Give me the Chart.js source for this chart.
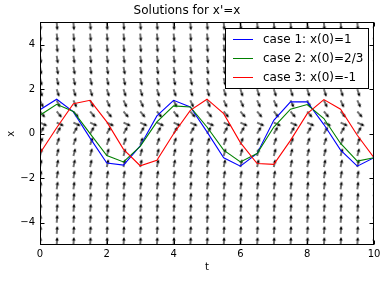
<!DOCTYPE html>
<html>
<head>
<meta charset="utf-8">
<script src="https://cdn.jsdelivr.net/npm/chart.js@4/dist/chart.umd.min.js"></script>
<style>
    html, body { margin: 0; padding: 0; background: #fff; }
    #wrap { width: 386px; height: 281px; }
</style>
</head>
<body>
<div id="wrap"><canvas id="myChart" width="386" height="281"></canvas></div>
<script>
// solution curves, sampled every 0.5 in t
var tValues = [0, 0.5, 1, 1.5, 2, 2.5, 3, 3.5, 4, 4.5, 5, 5.5, 6, 6.5, 7, 7.5, 8, 8.5, 9, 9.5, 10];
var case1 = [1.08, 1.55, 0.98, -0.2, -1.32, -1.41, -0.55, 0.8, 1.5, 1.2, 0.08, -1.08, -1.46, -0.89, 0.6, 1.43, 1.43, 0.41, -0.74, -1.46, -1.08];
var case2 = [0.83, 1.32, 1.0, 0.0, -0.98, -1.27, -0.57, 0.53, 1.25, 1.2, 0.3, -0.74, -1.27, -0.89, 0.3, 1.1, 1.31, 0.68, -0.44, -1.23, -1.08];
var case3 = [-0.88, 0.27, 1.35, 1.5, 0.53, -0.7, -1.44, -1.19, 0.0, 1.05, 1.55, 0.9, -0.4, -1.34, -1.38, -0.3, 0.9, 1.53, 1.1, -0.07, -1.08];

var seriesLabels = ['case 1: x(0)=1', 'case 2: x(0)=2/3', 'case 3: x(0)=-1'];
var seriesColors = ['#0000ff', '#008000', '#ff0000'];

var xTicks = [0, 2, 4, 6, 8, 10];
var yTicks = [-4, -2, 0, 2, 4];

// direction field: grid columns, rows and arrow angle per row (degrees, up = positive)
var fieldT = [0, 0.5, 1, 1.5, 2, 2.5, 3, 3.5, 4, 4.5, 5, 5.5, 6, 6.5, 7, 7.5, 8, 8.5, 9, 9.5, 10];
var fieldX = [-5, -4.5, -4, -3.5, -3, -2.5, -2, -1.5, -1, -0.5, 0, 0.5, 1, 1.5, 2, 2.5, 3, 3.5, 4, 4.5, 5];
var fieldAngle = [86, 85, 85, 84, 83, 82, 80, 78, 75, 70, 60, -25, -50, -65, -72, -76, -79, -81, -83, -84, -85];

Chart.defaults.font.family = 'DejaVu Sans';
Chart.defaults.color = '#000';

function makeArrow()
{
    var L = 8;
    var c = document.createElement('canvas');
    c.width = 2 * L + 2;
    c.height = 2 * L + 2;
    var g = c.getContext('2d');
    var cx = L + 1, cy = L + 1;
    g.fillStyle = '#000';
    g.fillRect(cx, cy - 0.55, L - 2.5, 1.1);
    g.beginPath();
    g.moveTo(cx + L, cy);
    g.lineTo(cx + L - 3.5, cy - 1.8);
    g.lineTo(cx + L - 3.5, cy + 1.8);
    g.closePath();
    g.fill();
    return c;
}

var fieldPoints = [];
for (var r = 0; r < fieldX.length; r++) {
    for (var c = 0; c < fieldT.length; c++) {
        fieldPoints.push({x: fieldT[c], y: fieldX[r], a: fieldAngle[r]});
    }
}

function seriesData(values)
{
    return tValues.map(function (t, i) { return {x: t, y: values[i]}; });
}

function fmt(v)
{
    return v < 0 ? '\u2212' + Math.abs(v) : String(v);
}

var framePlugin = {
    id: 'frame',
    afterDraw: function (chart) {
        var ctx = chart.ctx;
        var a = chart.chartArea;
        var xs = chart.scales.x, ys = chart.scales.y;
        var L = Math.round(a.left) + 0.5, R = Math.round(a.right) - 0.5;
        var T = Math.round(a.top) + 0.5, B = Math.round(a.bottom) - 0.5;
        ctx.save();
        ctx.strokeStyle = '#000';
        ctx.lineWidth = 1;
        ctx.beginPath();
        xTicks.forEach(function (v) {
            var px = Math.round(xs.getPixelForValue(v)) + 0.5;
            ctx.moveTo(px, B); ctx.lineTo(px, B - 4);
            ctx.moveTo(px, T); ctx.lineTo(px, T + 4);
        });
        yTicks.forEach(function (v) {
            var py = Math.round(ys.getPixelForValue(v)) + 0.5;
            ctx.moveTo(L, py); ctx.lineTo(L + 4, py);
            ctx.moveTo(R, py); ctx.lineTo(R - 4, py);
        });
        ctx.stroke();
        ctx.strokeRect(L, T, R - L, B - T);

        // legend box
        var bx = 225.5, by = 28.5, bw = 143, bh = 60;
        ctx.fillStyle = '#fff';
        ctx.fillRect(bx, by, bw, bh);
        ctx.strokeRect(bx, by, bw, bh);
        ctx.font = '12px "DejaVu Sans"';
        ctx.textBaseline = 'middle';
        ctx.textAlign = 'left';
        seriesLabels.forEach(function (lab, i) {
            var y = 39.5 + i * 19;
            ctx.strokeStyle = seriesColors[i];
            ctx.beginPath();
            ctx.moveTo(233, y); ctx.lineTo(253, y);
            ctx.stroke();
            ctx.fillStyle = '#000';
            ctx.fillText(lab, 263, y);
        });
        ctx.restore();
    }
};

var ctx = document.getElementById('myChart').getContext('2d');
var myChart = new Chart(ctx, {
    type: 'scatter',
    data: {
        datasets: [
            {
                label: seriesLabels[0], data: seriesData(case1), showLine: true,
                borderColor: seriesColors[0], borderWidth: 1.1, pointRadius: 0, order: 2
            },
            {
                label: seriesLabels[1], data: seriesData(case2), showLine: true,
                borderColor: seriesColors[1], borderWidth: 1.1, pointRadius: 0, order: 1
            },
            {
                label: seriesLabels[2], data: seriesData(case3), showLine: true,
                borderColor: seriesColors[2], borderWidth: 1.1, pointRadius: 0, order: 0
            },
            {
                label: 'field', data: fieldPoints, order: 3,
                pointStyle: makeArrow(), pointRadius: 1,
                pointRotation: function (c) { return c.raw ? -c.raw.a : 0; }
            }
        ]
    },
    options: {
        responsive: false,
        animation: false,
        events: [],
        layout: {padding: {left: 0, right: 12, top: 0, bottom: 0}},
        plugins: {
            legend: {display: false},
            tooltip: {enabled: false},
            title: {
                display: true,
                text: "Solutions for x'=x",
                font: {size: 12, weight: 'normal', lineHeight: 1.2},
                padding: {top: 4, bottom: 4}
            }
        },
        scales: {
            x: {
                type: 'linear', min: 0, max: 10,
                grid: {display: false, drawTicks: false},
                border: {display: false},
                ticks: {font: {size: 10}, padding: 3, callback: fmt},
                title: {display: true, text: 't', font: {size: 10}, padding: {top: 0, bottom: 8}},
                afterBuildTicks: function (s) { s.ticks = xTicks.map(function (v) { return {value: v}; }); },
                afterFit: function (s) { s.height = 36; }
            },
            y: {
                type: 'linear', min: -5, max: 5,
                grid: {display: false, drawTicks: false},
                border: {display: false},
                ticks: {font: {size: 10}, padding: 5, callback: fmt},
                title: {display: true, text: 'x', font: {size: 10}, padding: {top: 5, bottom: 0}},
                afterBuildTicks: function (s) { s.ticks = yTicks.map(function (v) { return {value: v}; }); },
                afterFit: function (s) { s.width = 40; }
            }
        }
    },
    plugins: [framePlugin]
});
</script>
</body>
</html>
